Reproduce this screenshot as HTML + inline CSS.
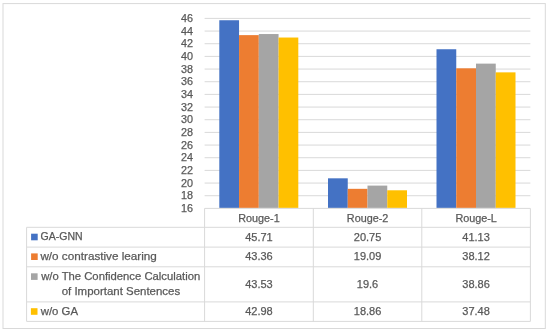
<!DOCTYPE html><html><head><meta charset="utf-8"><title>Chart</title><style>html,body{margin:0;padding:0;background:#fff;width:550px;height:333px;overflow:hidden}svg{display:block}text{font-family:"Liberation Sans", Arial, sans-serif;fill:#595959;stroke:#595959;stroke-width:0.25px}</style></head><body>
<svg width="550" height="333" viewBox="0 0 550 333">
<rect x="0" y="0" width="550" height="333" fill="#fff"/>
<rect x="3" y="3.6" width="542.3" height="324.9" fill="none" stroke="#d9d9d9" stroke-width="1"/>
<line x1="204.6" y1="195.73" x2="530.4" y2="195.73" stroke="#d9d9d9" stroke-width="1"/>
<line x1="204.6" y1="183.07" x2="530.4" y2="183.07" stroke="#d9d9d9" stroke-width="1"/>
<line x1="204.6" y1="170.40" x2="530.4" y2="170.40" stroke="#d9d9d9" stroke-width="1"/>
<line x1="204.6" y1="157.73" x2="530.4" y2="157.73" stroke="#d9d9d9" stroke-width="1"/>
<line x1="204.6" y1="145.07" x2="530.4" y2="145.07" stroke="#d9d9d9" stroke-width="1"/>
<line x1="204.6" y1="132.40" x2="530.4" y2="132.40" stroke="#d9d9d9" stroke-width="1"/>
<line x1="204.6" y1="119.73" x2="530.4" y2="119.73" stroke="#d9d9d9" stroke-width="1"/>
<line x1="204.6" y1="107.07" x2="530.4" y2="107.07" stroke="#d9d9d9" stroke-width="1"/>
<line x1="204.6" y1="94.40" x2="530.4" y2="94.40" stroke="#d9d9d9" stroke-width="1"/>
<line x1="204.6" y1="81.73" x2="530.4" y2="81.73" stroke="#d9d9d9" stroke-width="1"/>
<line x1="204.6" y1="69.07" x2="530.4" y2="69.07" stroke="#d9d9d9" stroke-width="1"/>
<line x1="204.6" y1="56.40" x2="530.4" y2="56.40" stroke="#d9d9d9" stroke-width="1"/>
<line x1="204.6" y1="43.73" x2="530.4" y2="43.73" stroke="#d9d9d9" stroke-width="1"/>
<line x1="204.6" y1="31.07" x2="530.4" y2="31.07" stroke="#d9d9d9" stroke-width="1"/>
<line x1="204.6" y1="18.40" x2="530.4" y2="18.40" stroke="#d9d9d9" stroke-width="1"/>
<text x="193" y="211.90" font-size="10.8" text-anchor="end">16</text>
<text x="193" y="199.23" font-size="10.8" text-anchor="end">18</text>
<text x="193" y="186.57" font-size="10.8" text-anchor="end">20</text>
<text x="193" y="173.90" font-size="10.8" text-anchor="end">22</text>
<text x="193" y="161.23" font-size="10.8" text-anchor="end">24</text>
<text x="193" y="148.57" font-size="10.8" text-anchor="end">26</text>
<text x="193" y="135.90" font-size="10.8" text-anchor="end">28</text>
<text x="193" y="123.23" font-size="10.8" text-anchor="end">30</text>
<text x="193" y="110.57" font-size="10.8" text-anchor="end">32</text>
<text x="193" y="97.90" font-size="10.8" text-anchor="end">34</text>
<text x="193" y="85.23" font-size="10.8" text-anchor="end">36</text>
<text x="193" y="72.57" font-size="10.8" text-anchor="end">38</text>
<text x="193" y="59.90" font-size="10.8" text-anchor="end">40</text>
<text x="193" y="47.23" font-size="10.8" text-anchor="end">42</text>
<text x="193" y="34.57" font-size="10.8" text-anchor="end">44</text>
<text x="193" y="21.90" font-size="10.8" text-anchor="end">46</text>
<rect x="219.30" y="20.24" width="19.75" height="187.66" fill="#4472c4"/>
<rect x="239.05" y="35.12" width="19.75" height="172.78" fill="#ed7d31"/>
<rect x="258.80" y="34.04" width="19.75" height="173.86" fill="#a5a5a5"/>
<rect x="278.55" y="37.53" width="19.75" height="170.37" fill="#ffc000"/>
<rect x="328.00" y="178.32" width="19.75" height="29.58" fill="#4472c4"/>
<rect x="347.75" y="188.83" width="19.75" height="19.07" fill="#ed7d31"/>
<rect x="367.50" y="185.60" width="19.75" height="22.30" fill="#a5a5a5"/>
<rect x="387.25" y="190.29" width="19.75" height="17.61" fill="#ffc000"/>
<rect x="436.50" y="49.24" width="19.75" height="158.66" fill="#4472c4"/>
<rect x="456.25" y="68.31" width="19.75" height="139.59" fill="#ed7d31"/>
<rect x="476.00" y="63.62" width="19.75" height="144.28" fill="#a5a5a5"/>
<rect x="495.75" y="72.36" width="19.75" height="135.54" fill="#ffc000"/>
<line x1="204.6" y1="208.40" x2="530.4" y2="208.40" stroke="#d9d9d9" stroke-width="1"/>
<line x1="26.6" y1="227.30" x2="530.4" y2="227.30" stroke="#d9d9d9" stroke-width="1"/>
<line x1="26.6" y1="247.10" x2="530.4" y2="247.10" stroke="#d9d9d9" stroke-width="1"/>
<line x1="26.6" y1="266.80" x2="530.4" y2="266.80" stroke="#d9d9d9" stroke-width="1"/>
<line x1="26.6" y1="301.90" x2="530.4" y2="301.90" stroke="#d9d9d9" stroke-width="1"/>
<line x1="26.6" y1="321.40" x2="530.4" y2="321.40" stroke="#d9d9d9" stroke-width="1"/>
<line x1="26.6" y1="227.30" x2="26.6" y2="321.40" stroke="#d9d9d9" stroke-width="1"/>
<line x1="204.6" y1="208.40" x2="204.6" y2="321.40" stroke="#d9d9d9" stroke-width="1"/>
<line x1="313.3" y1="208.40" x2="313.3" y2="321.40" stroke="#d9d9d9" stroke-width="1"/>
<line x1="421.8" y1="208.40" x2="421.8" y2="321.40" stroke="#d9d9d9" stroke-width="1"/>
<line x1="530.4" y1="208.40" x2="530.4" y2="321.40" stroke="#d9d9d9" stroke-width="1"/>
<text x="258.95" y="221.5" font-size="10.8" text-anchor="middle">Rouge-1</text>
<text x="367.55" y="221.5" font-size="10.8" text-anchor="middle">Rouge-2</text>
<text x="476.10" y="221.5" font-size="10.8" text-anchor="middle">Rouge-L</text>
<text x="258.95" y="240.50" font-size="11" text-anchor="middle">45.71</text>
<text x="367.55" y="240.50" font-size="11" text-anchor="middle">20.75</text>
<text x="476.10" y="240.50" font-size="11" text-anchor="middle">41.13</text>
<text x="258.95" y="260.00" font-size="11" text-anchor="middle">43.36</text>
<text x="367.55" y="260.00" font-size="11" text-anchor="middle">19.09</text>
<text x="476.10" y="260.00" font-size="11" text-anchor="middle">38.12</text>
<text x="258.95" y="287.60" font-size="11" text-anchor="middle">43.53</text>
<text x="367.55" y="287.60" font-size="11" text-anchor="middle">19.6</text>
<text x="476.10" y="287.60" font-size="11" text-anchor="middle">38.86</text>
<text x="258.95" y="314.80" font-size="11" text-anchor="middle">42.98</text>
<text x="367.55" y="314.80" font-size="11" text-anchor="middle">18.86</text>
<text x="476.10" y="314.80" font-size="11" text-anchor="middle">37.48</text>
<rect x="31.10" y="233.70" width="6.6" height="6.6" fill="#4472c4"/>
<rect x="31.10" y="253.40" width="6.6" height="6.6" fill="#ed7d31"/>
<rect x="31.00" y="273.30" width="6.6" height="6.6" fill="#a5a5a5"/>
<rect x="30.90" y="308.20" width="6.6" height="6.6" fill="#ffc000"/>
<text x="40.6" y="240.3" font-size="10.5">GA-GNN</text>
<text x="40.4" y="259.9" font-size="11.7" textLength="116.5" lengthAdjust="spacingAndGlyphs">w/o contrastive learing</text>
<text x="41.2" y="280.2" font-size="11.3" textLength="159" lengthAdjust="spacingAndGlyphs">w/o The Confidence Calculation</text>
<text x="61.7" y="295.1" font-size="11.3" textLength="118.5" lengthAdjust="spacingAndGlyphs">of Important Sentences</text>
<text x="40.7" y="314.9" font-size="11.3" textLength="37.3" lengthAdjust="spacingAndGlyphs">w/o GA</text>
</svg></body></html>
